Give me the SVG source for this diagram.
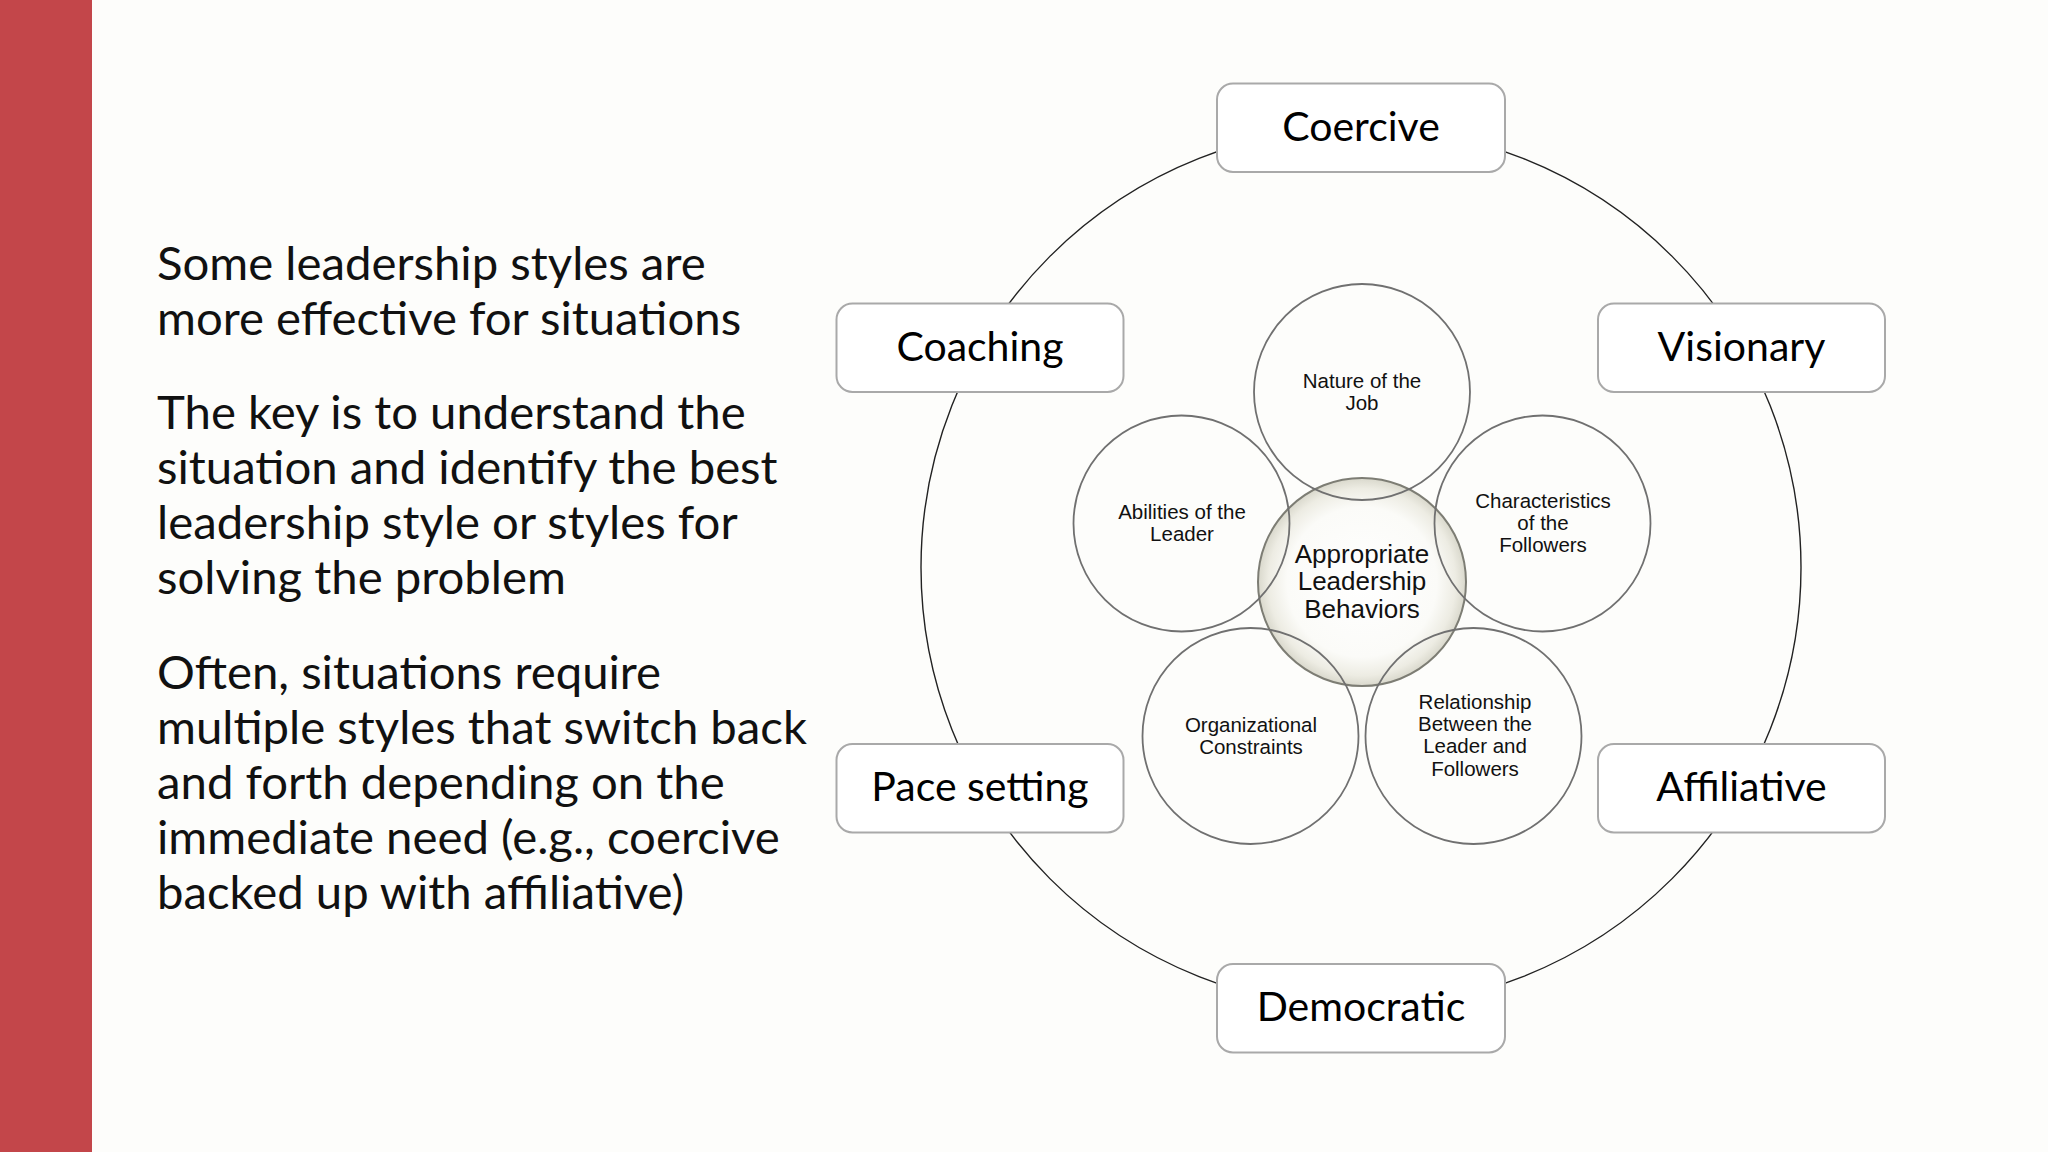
<svg xmlns="http://www.w3.org/2000/svg" width="2048" height="1152" viewBox="0 0 2048 1152">
  <defs>
    <radialGradient id="centerFill" cx="50%" cy="50%" r="50%">
      <stop offset="0" stop-color="#FFFFFF"/>
      <stop offset="0.72" stop-color="#FBFBF8"/>
      <stop offset="0.9" stop-color="#EDECE3"/>
      <stop offset="1" stop-color="#D9D8CC"/>
    </radialGradient>
    <style>
      .body { font-family: Lato, "Open Sans", sans-serif; font-size: 47.3px; fill: #111111; }
      .style-box { fill: #FFFFFF; stroke: #A9A9A9; stroke-width: 2; }
      .style-label { font-family: Lato, "Open Sans", sans-serif; font-size: 41px; fill: #000000; text-anchor: middle; }
      .factor { fill: none; stroke: #707070; stroke-width: 1.8; }
      .factor-label { font-family: "Liberation Sans", Arial, sans-serif; font-size: 20.5px; fill: #111111; text-anchor: middle; }
      .center-label { font-family: "Liberation Sans", Arial, sans-serif; font-size: 26px; fill: #111111; text-anchor: middle; }
      .ring { fill: none; stroke: #222222; stroke-width: 1.4; }
    </style>
  </defs>

  <rect x="0" y="0" width="2048" height="1152" fill="#FDFDFB"/>
  <rect id="accent-bar" x="0" y="0" width="92" height="1152" fill="#C3464A"/>

  <g id="body-text" class="body">
    <text x="157" y="280">Some leadership styles are</text>
    <text x="157" y="335">more effective for situations</text>
    <text x="157" y="429">The key is to understand the</text>
    <text x="157" y="484">situation and identify the best</text>
    <text x="157" y="539">leadership style or styles for</text>
    <text x="157" y="594">solving the problem</text>
    <text x="157" y="689">Often, situations require</text>
    <text x="157" y="744">multiple styles that switch back</text>
    <text x="157" y="799">and forth depending on the</text>
    <text x="157" y="854">immediate need (e.g., coercive</text>
    <text x="157" y="909">backed up with affiliative)</text>
  </g>

  <g id="connectors">
    <circle class="ring" cx="1361" cy="567.5" r="440"/>
  </g>

  <g id="style-coercive">
    <rect class="style-box" x="1217" y="83.5" width="288" height="88.5" rx="16"/>
    <text class="style-label" x="1361" y="141">Coercive</text>
  </g>
  <g id="style-coaching">
    <rect class="style-box" x="836.5" y="303.5" width="287" height="88.5" rx="16"/>
    <text class="style-label" x="980" y="361">Coaching</text>
  </g>
  <g id="style-visionary">
    <rect class="style-box" x="1598" y="303.5" width="287" height="88.5" rx="16"/>
    <text class="style-label" x="1741.5" y="361">Visionary</text>
  </g>
  <g id="style-pacesetting">
    <rect class="style-box" x="836.5" y="744" width="287" height="88.5" rx="16"/>
    <text class="style-label" x="980" y="801">Pace setting</text>
  </g>
  <g id="style-affiliative">
    <rect class="style-box" x="1598" y="744" width="287" height="88.5" rx="16"/>
    <text class="style-label" x="1741.5" y="801">Affiliative</text>
  </g>
  <g id="style-democratic">
    <rect class="style-box" x="1217" y="964" width="288" height="88.5" rx="16"/>
    <text class="style-label" x="1361" y="1021">Democratic</text>
  </g>

  <g id="center-behaviors">
    <circle cx="1362" cy="582" r="104" fill="url(#centerFill)" stroke="#7D7D74" stroke-width="2"/>
    <text class="center-label" x="1362" y="563">Appropriate</text>
    <text class="center-label" x="1362" y="590">Leadership</text>
    <text class="center-label" x="1362" y="618">Behaviors</text>
  </g>

  <g id="factor-job">
    <circle class="factor" cx="1362" cy="392" r="108"/>
    <text class="factor-label" x="1362" y="388">Nature of the</text>
    <text class="factor-label" x="1362" y="410">Job</text>
  </g>
  <g id="factor-leader">
    <circle class="factor" cx="1181.5" cy="523.5" r="108"/>
    <text class="factor-label" x="1182" y="519">Abilities of the</text>
    <text class="factor-label" x="1182" y="541">Leader</text>
  </g>
  <g id="factor-followers">
    <circle class="factor" cx="1542.5" cy="523.5" r="108"/>
    <text class="factor-label" x="1543" y="508">Characteristics</text>
    <text class="factor-label" x="1543" y="530">of the</text>
    <text class="factor-label" x="1543" y="552">Followers</text>
  </g>
  <g id="factor-organization">
    <circle class="factor" cx="1250.5" cy="736" r="108"/>
    <text class="factor-label" x="1251" y="732">Organizational</text>
    <text class="factor-label" x="1251" y="754">Constraints</text>
  </g>
  <g id="factor-relationship">
    <circle class="factor" cx="1473.5" cy="736" r="108"/>
    <text class="factor-label" x="1475" y="709">Relationship</text>
    <text class="factor-label" x="1475" y="731">Between the</text>
    <text class="factor-label" x="1475" y="753">Leader and</text>
    <text class="factor-label" x="1475" y="776">Followers</text>
  </g>
</svg>
